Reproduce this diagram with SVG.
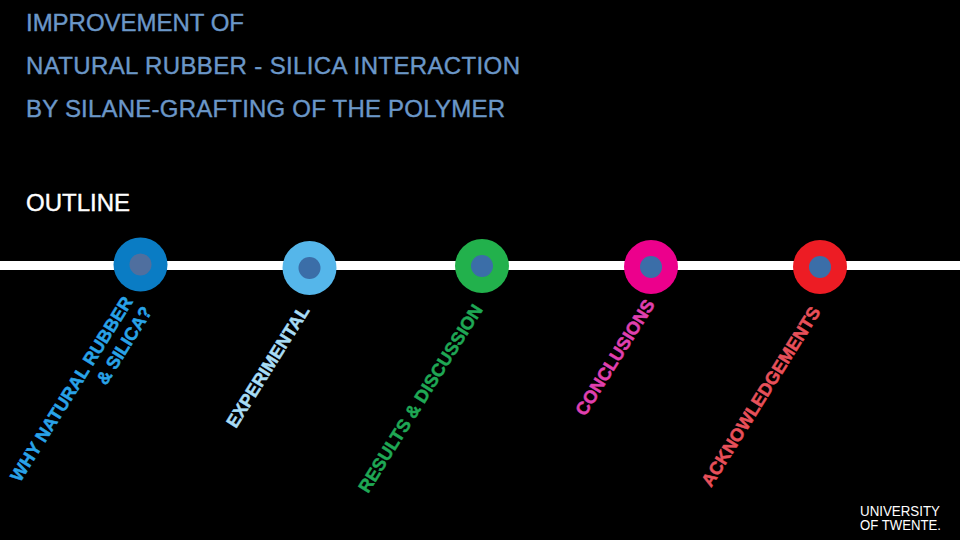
<svg xmlns="http://www.w3.org/2000/svg" width="960" height="540" viewBox="0 0 960 540">
<style>
.t{font-family:"Liberation Sans",Arial,sans-serif;font-size:24px;fill:#6b97c8;stroke:#6b97c8;stroke-width:.4px}
.r{font-family:"Liberation Sans",Arial,sans-serif;font-size:18px;font-weight:bold;stroke-width:.5px}
.u{font-family:"Liberation Sans",Arial,sans-serif;font-size:15px;fill:#fff}
.i{fill:#3b6ea8}
</style>
<rect width="960" height="540" fill="#000"/>
<g id="titles">
<text class="t" x="26" y="31" textLength="218">IMPROVEMENT OF</text>
<text class="t" x="26" y="74" textLength="494">NATURAL RUBBER - SILICA INTERACTION</text>
<text class="t" x="26" y="117" textLength="479">BY SILANE-GRAFTING OF THE POLYMER</text>
<text class="t" x="26" y="211" textLength="104" style="fill:#fff;stroke:#fff">OUTLINE</text>
</g>
<g id="connectors"><rect x="0" y="261" width="960" height="9" fill="#fff"/></g>
<g id="n1"><circle cx="140.500" cy="264.500" r="27" fill="#0a7cc4"/><circle cx="140.500" cy="264.500" r="11" fill="#4f6f9f"/>
<text class="r" transform="translate(20,483) rotate(-58)" fill="#29a3e8" stroke="#29a3e8">WHY NATURAL RUBBER</text>
<text class="r" transform="translate(106,386) rotate(-58)" fill="#29a3e8" stroke="#29a3e8">&amp; SILICA?</text></g>
<g id="n2"><circle cx="309.500" cy="268" r="27" fill="#55b6ea"/><circle cx="309.500" cy="268" r="11" class="i"/>
<text class="r" transform="translate(236,429) rotate(-58)" fill="#a8dcf5" stroke="#a8dcf5">EXPERIMENTAL</text></g>
<g id="n3"><circle cx="482" cy="266" r="27" fill="#22b14c"/><circle cx="482" cy="266" r="11" class="i"/>
<text class="r" transform="translate(368,494) rotate(-58)" fill="#1fa855" stroke="#1fa855">RESULTS &amp; DISCUSSION</text></g>
<g id="n4"><circle cx="651" cy="267" r="27" fill="#ec008c"/><circle cx="651" cy="267" r="11" class="i"/>
<text class="r" transform="translate(585,417) rotate(-58)" fill="#e040b0" stroke="#e040b0">CONCLUSIONS</text></g>
<g id="n5"><circle cx="820" cy="267" r="27" fill="#ed1c24"/><circle cx="820" cy="267" r="11" class="i"/>
<text class="r" transform="translate(711,488) rotate(-58)" fill="#e8505a" stroke="#e8505a">ACKNOWLEDGEMENTS</text></g>
<g id="logo"><text class="u" x="860" y="515.500" textLength="80" lengthAdjust="spacingAndGlyphs">UNIVERSITY</text>
<text class="u" x="860" y="530" textLength="81" lengthAdjust="spacingAndGlyphs">OF TWENTE.</text></g>
</svg>
